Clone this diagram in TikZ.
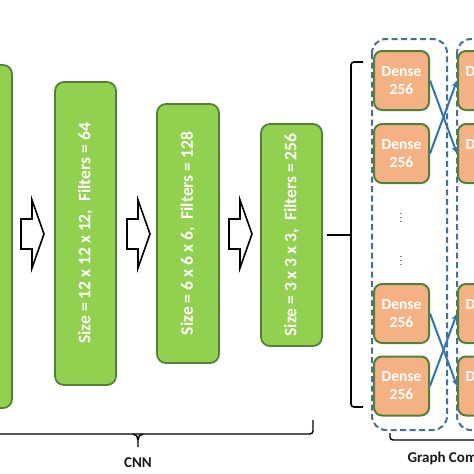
\documentclass[tikz,border=0pt]{standalone}
\usepackage{fontspec}
\setmainfont{Carlito}
\usetikzlibrary{arrows.meta}
\definecolor{gfill}{HTML}{92D050}
\definecolor{gline}{HTML}{548235}
\definecolor{sfill}{HTML}{F4B183}
\definecolor{dashc}{HTML}{41719C}
\definecolor{arrc}{HTML}{2E75B6}
\tikzset{
  convbox/.style={draw=gline, fill=gfill, line width=1.8pt, rounded corners=9pt},
  convtext/.style={text=white, font=\fontsize{17.5}{20}\selectfont\bfseries, rotate=90},
  densebox/.style={draw=gline, fill=sfill, line width=2pt, rounded corners=8pt, minimum width=55pt, minimum height=59pt, inner sep=0pt, align=center, text=white, font=\fontsize{15.5}{18}\selectfont\bfseries},
  blockarrow/.style={draw=black, fill=white, line width=1.6pt, line join=miter},
  group/.style={draw=dashc, dash pattern=on 6pt off 3.5pt, line width=2pt, rounded corners=14pt},
  xarrow/.style={draw=arrc, line width=2pt, -{Stealth[length=7pt,width=6pt]}},
  bracket/.style={draw=black, line width=1.6pt},
  dotstyle/.style={font=\fontsize{9}{9}\selectfont, inner sep=0pt},
  label/.style={font=\fontsize{15}{18}\selectfont\bfseries, text=black!90}
}
\begin{document}
\begin{tikzpicture}[x=1pt,y=-1pt]
\useasboundingbox (0,0) rectangle (474,474);
\clip (0,0) rectangle (474,474);
\fill[white] (0,0) rectangle (474,474);
% conv boxes
\draw[convbox] (-60,65) rectangle (12,408);
\draw[convbox] (55,82) rectangle (116,385);
\node[convtext] (c2) at (85.5,233.5) {Size = 12 x 12 x 12,\ \ Filters = 64};
\draw[convbox] (157,104) rectangle (219,363);
\node[convtext] (c3) at (188,233.5) {Size = 6 x 6 x 6,\ \ Filters = 128};
\draw[convbox] (261,124) rectangle (322,346);
\node[convtext] (c4) at (291.5,235) {Size = 3 x 3 x 3,\ \ Filters = 256};
% block arrows
\foreach \s in {0,106,208}{
  \draw[blockarrow] (21+\s,219) -- (32+\s,219) -- (32+\s,200) -- (44+\s,234) -- (32+\s,268) -- (32+\s,249) -- (21+\s,249) -- cycle;
}
% right bracket
\draw[bracket, rounded corners=3pt] (363,62) -- (351,62) -- (351,407) -- (363,407);
\coordinate (btip) at (327,235);
\draw[bracket] (351,235) -- (btip);
% dashed groups
\draw[group] (372,39) rectangle (447,430);
\draw[group] (457,39) rectangle (560,430);
% dense nodes
\node[densebox] (a1) at (401.5,80.5) {Dense\\256};
\node[densebox] (a2) at (401.5,153.5) {Dense\\256};
\node[densebox] (a3) at (401.5,313.5) {Dense\\256};
\node[densebox] (a4) at (401.5,386) {Dense\\256};
\node[densebox] (b1) at (485.5,80.5) {Dense\\256};
\node[densebox] (b2) at (485.5,153.5) {Dense\\256};
\node[densebox] (b3) at (485.5,313.5) {Dense\\256};
\node[densebox] (b4) at (485.5,386) {Dense\\256};
\draw[xarrow] (a1.east) -- (b2.west);
\draw[xarrow] (a2.east) -- (b1.west);
\draw[xarrow] (a3.east) -- (b4.west);
\draw[xarrow] (a4.east) -- (b3.west);
\node[dotstyle] (d1) at (401,215) {$\vdots$};
\node[dotstyle] (d2) at (401,258) {$\vdots$};
% bottom braces
\draw[bracket, line width=1.4pt, rounded corners=3pt] (-20,420) -- (-20,434) -- (313,434) -- (313,420);
\draw[bracket, line width=1.4pt] (133,434) to[out=0,in=90] (138,440) -- (138,447);
\draw[bracket, line width=1.4pt] (143,434) to[out=180,in=90] (138,440);
\node[label] (cnn) at (138,463) {CNN};
\draw[bracket, line width=1.4pt, rounded corners=3pt] (390,433) -- (390,440) -- (480,440);
\node[label, anchor=base west] (gc) at (404,462) {Graph Com};
\end{tikzpicture}
\end{document}
